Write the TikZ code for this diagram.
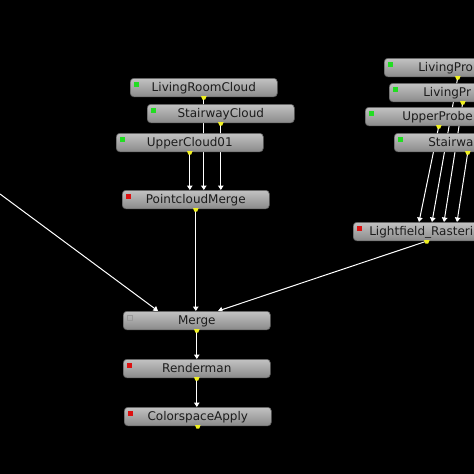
\documentclass[tikz,border=0pt]{standalone}
\usepackage{fontspec}
\newfontfamily\nodefont{DejaVu Sans}
\usetikzlibrary{arrows.meta}
\definecolor{nodetop}{HTML}{C2C2C2}
\definecolor{nodebot}{HTML}{8A8A8A}
\definecolor{nodeedge}{HTML}{5C5C5C}
\definecolor{nodetext}{HTML}{1C1C1C}
\definecolor{iconon}{HTML}{22DD22}
\definecolor{iconred}{HTML}{DD1111}
\definecolor{outmark}{HTML}{F0F020}
\pgfdeclarelayer{bg}
\pgfdeclarelayer{edges}
\pgfsetlayers{bg,edges,main}
\tikzset{
  nbox/.style={rectangle, rounded corners=3.5pt, minimum width=147pt, minimum height=18.5pt,
    inner sep=0pt, top color=nodetop, bottom color=nodebot, draw=nodeedge, line width=0.6pt,
    text=nodetext, font={\nodefont\fontsize{12}{14}\selectfont}, anchor=north west,
    text height=10pt, text depth=1.5pt},
  lbox/.style={nbox, inner xsep=#1, text width=147pt-2*#1, align=left},
  link/.style={draw=white, line width=1pt, -{Triangle[width=5.5pt,length=4.5pt]}},
}
\newcommand{\greenicon}[1]{\fill[iconon] ([shift={(4pt,-4pt)}]#1.north west) rectangle ++(5pt,-5pt);}
\newcommand{\redicon}[1]{\fill[iconred] ([shift={(4pt,-4pt)}]#1.north west) rectangle ++(5pt,-5pt);}
\newcommand{\outmarker}[1]{\fill[outmark] ([shift={(-2.8pt,1pt)}]#1.south) -- ++(5.6pt,0) -- ++(-1.4pt,-3.5pt) -- ++(-2.8pt,0) -- cycle;}
\begin{document}
\begin{tikzpicture}[x=1pt,y=-1pt]
\useasboundingbox (0,0) rectangle (474,474);
\begin{pgfonlayer}{bg}
\fill[black] (0,0) rectangle (474,474);
\end{pgfonlayer}
% left column
\node[nbox] (lrc) at (130,78) {LivingRoomCloud};
\node[nbox] (sc) at (147,104) {StairwayCloud};
\node[nbox] (uc) at (116,133) {UpperCloud01};
\node[nbox] (pcm) at (122,190) {PointcloudMerge};
\node[nbox] (merge) at (123,311) {Merge};
\node[nbox] (rm) at (123,359) {Renderman};
\node[nbox] (csa) at (124,407) {ColorspaceApply};
% right column (cut by the picture edge)
\node[lbox=34pt] (lp1) at (384,58) {LivingPro};
\node[lbox=34pt] (lp2) at (389,83) {LivingPr};
\node[lbox=37pt] (up) at (365,107) {UpperProbe};
\node[lbox=34pt] (st) at (394,133) {Stairwa};
\node[lbox=16pt] (lf) at (353,222) {Lightfield\_Rasteri};
\coordinate (lft) at (0,194);
% icons
\greenicon{lrc}\greenicon{sc}\greenicon{uc}
\greenicon{lp1}\greenicon{lp2}\greenicon{up}\greenicon{st}
\redicon{pcm}\redicon{rm}\redicon{csa}\redicon{lf}
\draw[gray!80, line width=0.6pt] ([shift={(4.5pt,-4.5pt)}]merge.north west) rectangle ++(4.5pt,-4.5pt);
% output markers
\foreach \n in {lrc,sc,uc,pcm,merge,rm,csa,lp1,lp2,up,st,lf} {\outmarker{\n}}
% connectors
\begin{pgfonlayer}{edges}
\draw[link] (lrc.south) -- (lrc.south |- pcm.north);
\draw[link] (sc.south) -- (sc.south |- pcm.north);
\draw[link] (uc.south) -- (uc.south |- pcm.north);
\draw[link] (pcm.south) -- (pcm.south |- merge.north);
\draw[link] (lft) -- ([xshift=35pt]merge.north west);
\draw[link] (lf.south) -- ([xshift=95pt]merge.north west);
\draw[link] (merge.south) -- (merge.south |- rm.north);
\draw[link] (rm.south) -- (rm.south |- csa.north);
\draw[link] (up.south) -- ([xshift=66pt]lf.north west);
\draw[link] (lp1.south) -- ([xshift=79pt]lf.north west);
\draw[link] (lp2.south) -- ([xshift=91pt]lf.north west);
\draw[link] (st.south) -- ([xshift=104pt]lf.north west);
\end{pgfonlayer}
\end{tikzpicture}
\end{document}
